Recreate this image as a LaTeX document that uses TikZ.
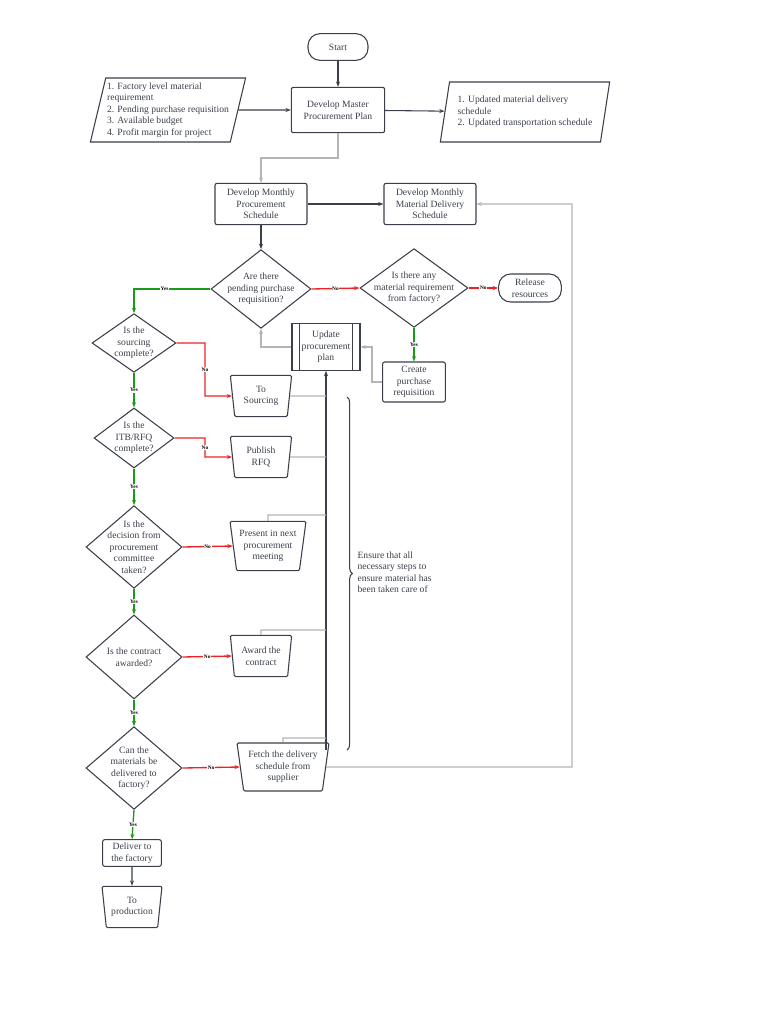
\documentclass[tikz,border=0pt]{standalone}
\usepackage{fontspec}
\setmainfont{Liberation Serif}
\usetikzlibrary{shapes.geometric,arrows.meta,decorations.pathreplacing}
\definecolor{dk}{HTML}{3A3F4A}
\definecolor{lg}{HTML}{B4B4B4}
\definecolor{gr}{HTML}{1A9A1A}
\definecolor{rd}{HTML}{EE2222}
\begin{document}
\begin{tikzpicture}[x=0.75pt,y=-0.75pt,
  every node/.style={font=\fontsize{7.2}{8.6}\selectfont,text=dk,align=center,inner sep=1pt},
  box/.style={draw=dk,line width=0.8pt,rounded corners=1.5pt,minimum width=#1},
  stad/.style={draw=dk,line width=0.8pt,rounded corners=9pt},
  dia/.style={draw=dk,line width=0.8pt,diamond,inner sep=-6pt},
  trap/.style={draw=dk,line width=0.8pt,trapezium,shape border rotate=180,trapezium angle=79,trapezium stretches body,rounded corners=1pt},
  par/.style={draw=dk,line width=0.8pt,trapezium,trapezium left angle=75,trapezium right angle=105,trapezium stretches body,align=left},
  dl/.style={draw=dk,line width=0.8pt,-{Stealth[length=4pt]}},
  gl/.style={draw=lg,line width=0.8pt,-{Stealth[length=4pt,fill=dk]}},
  gn/.style={draw=gr,line width=1pt,-{Stealth[length=4pt]}},
  rn/.style={draw=rd,line width=1pt,-{Stealth[length=4pt]}},
  lab/.style={font=\fontsize{4}{4}\bfseries\selectfont,fill=white,inner sep=0.5pt,text=black}]
\useasboundingbox (0,0) rectangle (768,1024);

\node[stad,minimum width=45pt,minimum height=20pt] (start) at (338,47) {Start};
\node[par,minimum width=116pt,minimum height=48pt] (in) at (168,110) {1. Factory level material\\requirement\\2. Pending purchase requisition\\3. Available budget\\4. Profit margin for project};
\node[box=70pt,minimum height=34pt] (mpp) at (338,110) {Develop Master\\Procurement Plan};
\node[par,minimum width=127pt,minimum height=45pt] (out) at (525,112) {1. Updated material delivery\\schedule\\2. Updated transportation schedule};
\node[box=69pt,minimum height=31pt] (mps) at (261,204) {Develop Monthly\\Procurement\\Schedule};
\node[box=69pt,minimum height=31pt] (mds) at (430,204) {Develop Monthly\\Material Delivery\\Schedule};
\node[dia,minimum width=75pt,minimum height=59pt,aspect=1.27,inner sep=-9pt] (q1) at (261,289) {Are there\\pending purchase\\requisition?};
\node[dia,minimum width=81pt,minimum height=59pt,aspect=1.38,inner sep=-11pt] (q2) at (414,288) {Is there any\\material requirement\\from factory?};
\node[stad,minimum width=47pt,minimum height=21pt] (rel) at (530,288) {Release\\resources};
\node[draw=dk,line width=0.8pt,minimum width=51pt,minimum height=35pt] (upd) at (326,347) {Update\\procurement\\plan};
\draw[dk,line width=0.8pt] ([xshift=6pt]upd.north west) -- ([xshift=6pt]upd.south west)
  ([xshift=-6pt]upd.north east) -- ([xshift=-6pt]upd.south east);
\node[box=47pt,minimum height=30pt] (cpr) at (414,382) {Create\\purchase\\requisition};
\node[dia,minimum width=63pt,minimum height=44pt,aspect=1.43] (q3) at (134,343) {Is the\\sourcing\\complete?};
\node[trap,minimum width=46pt,minimum height=31pt] (src) at (261,396) {To\\Sourcing};
\node[dia,minimum width=60pt,minimum height=45pt,aspect=1.33] (q4) at (134,438) {Is the\\ITB/RFQ\\complete?};
\node[trap,minimum width=46pt,minimum height=31pt] (rfq) at (261,457) {Publish\\RFQ};
\node[dia,minimum width=72pt,minimum height=62pt,aspect=1.17,inner sep=-12pt] (q5) at (134,547) {Is the\\decision from\\procurement\\committee\\taken?};
\node[trap,minimum width=57pt,minimum height=37pt] (pres) at (268,546) {Present in next\\procurement\\meeting};
\node[dia,minimum width=72pt,minimum height=63pt,aspect=1.14,inner sep=-4pt] (q6) at (134,657) {Is the contract\\awarded?};
\node[trap,minimum width=46pt,minimum height=31pt] (aw) at (261,656) {Award the\\contract};
\node[dia,minimum width=72pt,minimum height=62pt,aspect=1.17,inner sep=-8pt] (q7) at (134,768) {Can the\\materials be\\delivered to\\factory?};
\node[trap,minimum width=69pt,minimum height=36pt] (fet) at (283,767) {Fetch the delivery\\schedule from\\supplier};
\node[box=44pt,minimum height=20pt] (del) at (132,853) {Deliver to\\the factory};
\node[trap,minimum width=45pt,minimum height=31pt] (prod) at (132,907) {To\\production};

\node[anchor=west,align=left] (ens) at (356,572) {Ensure that all\\necessary steps to\\ensure material has\\been taken care of};
\draw[dk,line width=0.8pt,decorate,decoration={brace,mirror,amplitude=4pt}] (347,750) -- (347,397);

% dark arrows
\draw[dl] (start) -- (mpp);
\draw[dl] (in) -- (mpp);
\draw[dl] (mpp) -- (out);
\draw[dl] (mps) -- (mds);
\draw[dl] (mps) -- (q1);
\draw[dl] (del) -- (prod);
\draw[dl] (326,750) -- (upd.south);
% gray
\draw[gl] (mpp.south) -- (338,158) -| (mps.north);
\draw[gl] (upd.west) -| (q1.south);
\draw[gl] (cpr.west) -- (372,382) |- (upd.east);
\draw[gl] (fet.east) -- (572,767) |- (mds.east);
\draw[lg,line width=0.8pt] (src.east) -- (326,396);
\draw[lg,line width=0.8pt] (rfq.east) -- (326,457);
\draw[lg,line width=0.8pt] (pres.north) -- (268,515) -- (326,515);
\draw[lg,line width=0.8pt] (aw.north) -- (261,630) -- (326,630);
\draw[lg,line width=0.8pt] (fet.north) -- (283,738) -- (326,738);
% yes / no
\draw[gn] (q1.west) -| node[lab,pos=0.3]{Yes} (q3.north);
\draw[rn] (q1.east) -- node[lab]{No} (q2.west);
\draw[rn] (q2.east) -- node[lab]{No} (rel.west);
\draw[gn] (q2.south) -- node[lab]{Yes} (cpr.north);
\draw[rn] (q3.east) -- (205,343) -- node[lab]{No} (205,396) -- (src.west);
\draw[gn] (q3.south) -- node[lab]{Yes} (q4.north);
\draw[rn] (q4.east) -- (205,438) -- node[lab]{No} (205,457) -- (rfq.west);
\draw[gn] (q4.south) -- node[lab]{Yes} (q5.north);
\draw[rn] (q5.east) -- node[lab]{No} (pres.west);
\draw[gn] (q5.south) -- node[lab]{Yes} (q6.north);
\draw[rn] (q6.east) -- node[lab]{No} (aw.west);
\draw[gn] (q6.south) -- node[lab]{Yes} (q7.north);
\draw[rn] (q7.east) -- node[lab]{No} (fet.west);
\draw[gn] (q7.south) -- node[lab]{Yes} (del.north);
\end{tikzpicture}
\end{document}
